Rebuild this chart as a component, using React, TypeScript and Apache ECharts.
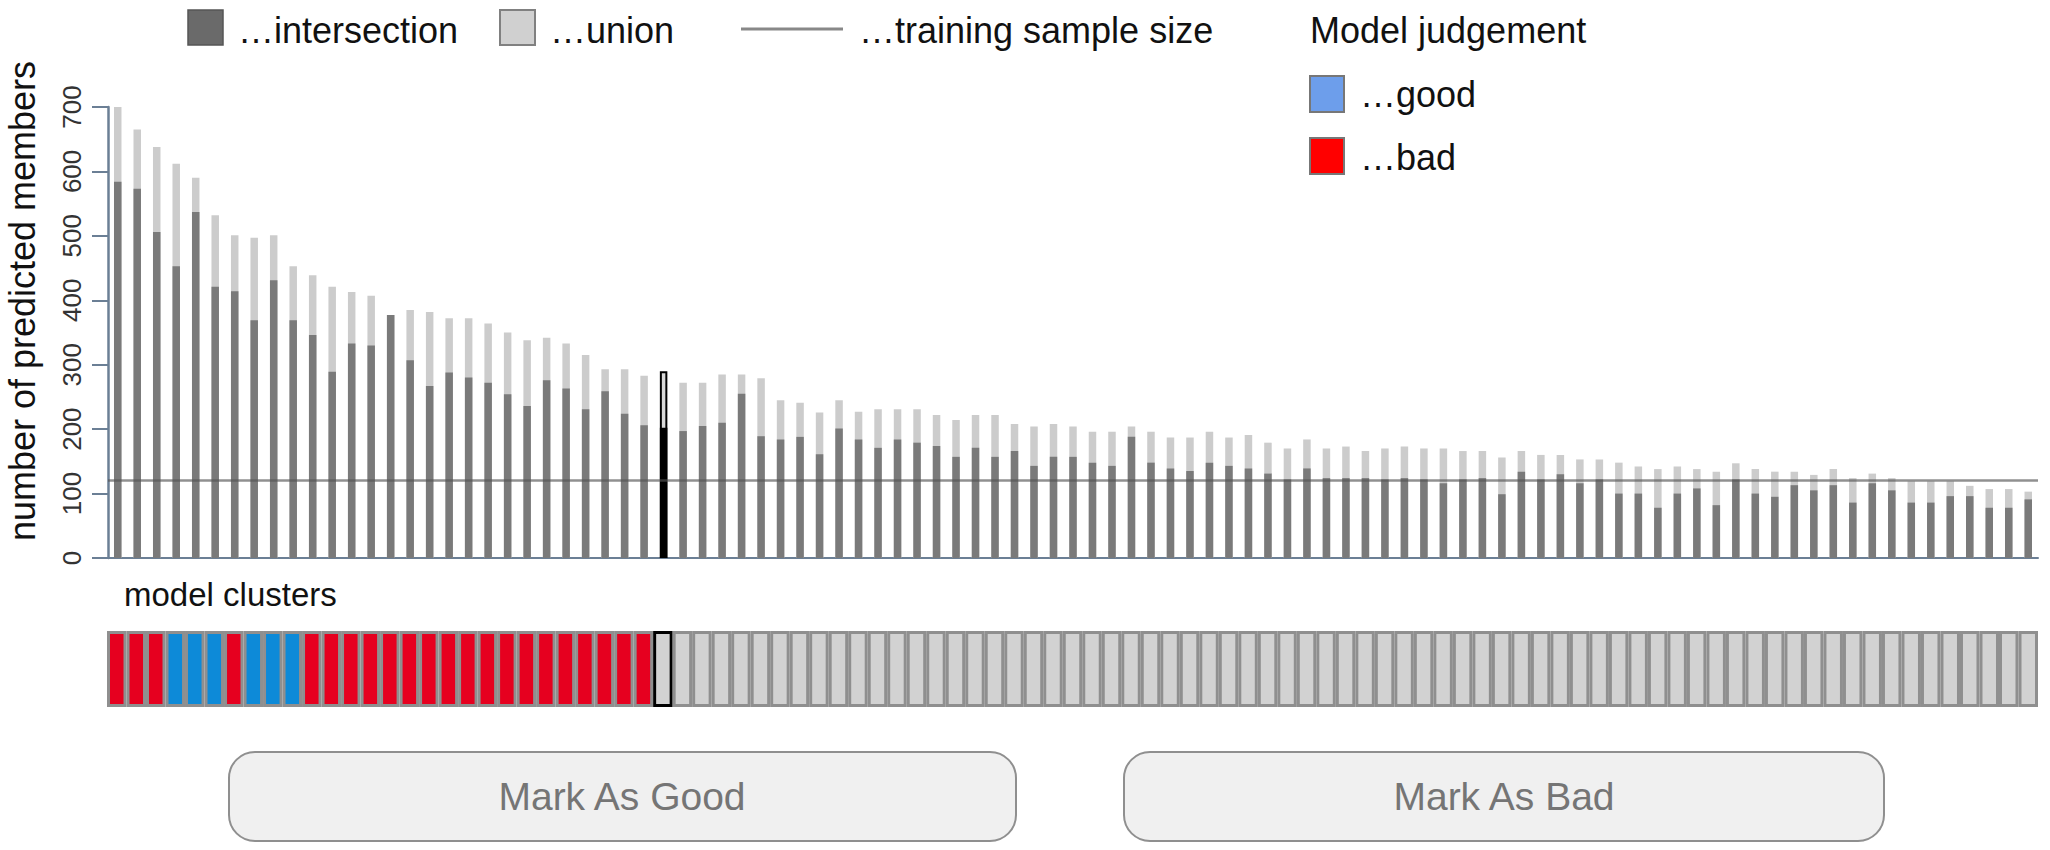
import React, { useEffect, useRef } from "react";
import * as echarts from "echarts";

const FONT = "'Liberation Sans', Arial, Helvetica, sans-serif";
const AXIS = "#6b7f95";

const unionSizes = [700, 665, 638, 612, 590, 532, 501, 497, 501, 453, 439, 421, 413, 407, 377, 385, 382, 372, 372, 364, 350, 338, 342, 333, 315, 293, 293, 283, 290, 272, 272, 285, 285, 279, 245, 241, 226, 245, 227, 231, 231, 231, 222, 214, 222, 222, 208, 204, 208, 204, 196, 196, 204, 196, 187, 187, 196, 187, 191, 179, 170, 184, 170, 173, 166, 170, 173, 170, 170, 166, 166, 156, 166, 160, 160, 153, 153, 148, 142, 138, 142, 138, 134, 147, 138, 134, 134, 129, 138, 124, 131, 124, 119, 119, 119, 112, 107, 107, 103];

const intersectionSizes = [584, 573, 506, 453, 537, 421, 414, 369, 431, 369, 346, 289, 333, 330, 377, 307, 267, 288, 280, 272, 254, 236, 276, 263, 231, 259, 224, 206, 202, 197, 205, 210, 255, 189, 184, 188, 161, 201, 184, 171, 184, 179, 174, 157, 171, 157, 166, 143, 157, 157, 148, 143, 188, 148, 139, 135, 148, 143, 139, 131, 122, 139, 124, 124, 124, 122, 124, 122, 116, 122, 124, 99, 134, 122, 130, 116, 122, 100, 100, 78, 100, 108, 82, 122, 100, 95, 113, 105, 113, 86, 116, 105, 86, 86, 96, 96, 78, 78, 91];

const judgements = [
  "bad", "bad", "bad", "good", "good", "good", "bad", "good", "good", "good",
  "bad", "bad", "bad", "bad", "bad", "bad", "bad", "bad", "bad", "bad",
  "bad", "bad", "bad", "bad", "bad", "bad", "bad", "bad",
];

const TRAINING_SAMPLE_SIZE = 121;
const SELECTED = 28;
const clusterIds = unionSizes.map((_, i) => `cluster ${i + 1}`);

const yTicks = { min: 0, max: 700, interval: 100 };

const judgementColor = (j: string | undefined) =>
  j === "good" ? "#0d8ad8" : j === "bad" ? "#e6001f" : "#d2d2d2";

export default function App() {
  const ref = useRef<HTMLDivElement>(null);
  useEffect(() => {
    if (!ref.current) return;
    const chart = echarts.init(ref.current, null, { renderer: "svg" });
    const txt = (
      text: string,
      x: number,
      y: number,
      fontSize: number,
      fill = "#111",
      extra: any = {}
    ) => ({
      type: "text",
      x,
      y,
      ...extra,
      style: {
        text,
        fontSize,
        fontFamily: FONT,
        fill,
        align: extra.align || "left",
        textAlign: extra.align || "left",
        verticalAlign: "middle",
        textVerticalAlign: "middle",
      },
    });
    const option: any = {
      animation: false,
      backgroundColor: "#ffffff",
      grid: [
        { left: 108, top: 107, width: 1930, height: 451 },
        { left: 107, top: 631, width: 1931, height: 76 },
      ],
      xAxis: [
        {
          type: "category",
          gridIndex: 0,
          data: clusterIds,
          axisLine: { lineStyle: { color: AXIS, width: 2 } },
          axisTick: {
            interval: (i: number) => i === 0,
            length: 12,
            lineStyle: { color: AXIS, width: 2 },
          },
          axisLabel: { show: false },
        },
        { type: "category", gridIndex: 1, data: clusterIds, show: false },
      ],
      yAxis: [
        {
          type: "value",
          gridIndex: 0,
          min: yTicks.min,
          max: yTicks.max,
          interval: yTicks.interval,
          axisLine: { show: true, lineStyle: { color: AXIS, width: 2.5 } },
          axisTick: { show: true, length: 16, lineStyle: { color: AXIS, width: 2 } },
          axisLabel: {
            rotate: 90,
            fontSize: 26,
            fontFamily: FONT,
            color: "#333",
            margin: 23,
          },
          splitLine: { show: false },
        },
        { type: "value", gridIndex: 1, min: 0, max: 1, show: false },
      ],
      series: [
        {
          type: "bar",
          name: "…union",
          xAxisIndex: 0,
          yAxisIndex: 0,
          barWidth: 7.5,
          barGap: "-100%",
          z: 1,
          itemStyle: { color: "#cccccc" },
          data: unionSizes.map((v, i) =>
            i === SELECTED
              ? { value: v, itemStyle: { color: "#d8d8d8", borderColor: "#000", borderWidth: 2 } }
              : v
          ),
        },
        {
          type: "bar",
          name: "…intersection",
          xAxisIndex: 0,
          yAxisIndex: 0,
          barWidth: 7.5,
          barGap: "-100%",
          z: 2,
          itemStyle: { color: "#7a7a7a" },
          data: intersectionSizes.map((v, i) =>
            i === SELECTED ? { value: v, itemStyle: { color: "#000" } } : v
          ),
          markLine: {
            silent: true,
            symbol: "none",
            label: { show: false },
            lineStyle: { color: "#555", opacity: 0.65, width: 2.5, type: "solid" },
            data: [{ yAxis: TRAINING_SAMPLE_SIZE }],
          },
        },
        {
          type: "bar",
          name: "model clusters",
          xAxisIndex: 1,
          yAxisIndex: 1,
          barCategoryGap: "0%",
          z: 1,
          data: clusterIds.map((_, i) =>
            i === SELECTED
              ? { value: 1, itemStyle: { color: "#d2d2d2", borderColor: "#000", borderWidth: 3 }, z: 3 }
              : {
                  value: 1,
                  itemStyle: {
                    color: judgementColor(judgements[i]),
                    borderColor: "#8f8f8f",
                    borderWidth: 3,
                  },
                }
          ),
        },
      ],
      graphic: [
        // legend row
        { type: "rect", shape: { x: 188, y: 10, width: 35, height: 35 }, style: { fill: "#6a6a6a", stroke: "#555", lineWidth: 1.5 } },
        txt("…intersection", 238, 30, 36),
        { type: "rect", shape: { x: 500, y: 10, width: 35, height: 35 }, style: { fill: "#d0d0d0", stroke: "#808080", lineWidth: 2 } },
        txt("…union", 550, 30, 36),
        { type: "line", shape: { x1: 741, y1: 29, x2: 843, y2: 29 }, style: { stroke: "#888", lineWidth: 3 } },
        txt("…training sample size", 859, 30, 36),
        txt("Model judgement", 1310, 30, 36),
        { type: "rect", shape: { x: 1310, y: 76, width: 34, height: 36 }, style: { fill: "#6d9eeb", stroke: "#777", lineWidth: 2 } },
        txt("…good", 1360, 94, 36),
        { type: "rect", shape: { x: 1310, y: 138, width: 34, height: 36 }, style: { fill: "#ff0000", stroke: "#777", lineWidth: 2 } },
        txt("…bad", 1360, 157, 36),
        // axis title
        txt("number of predicted members", 22, 301, 36, "#111", { rotation: Math.PI / 2, align: "center" }),
        txt("model clusters", 124, 594, 33),
        // buttons
        { type: "rect", shape: { x: 229, y: 752, width: 787, height: 89, r: 26 }, style: { fill: "#f0f0f0", stroke: "#8f8f8f", lineWidth: 2 } },
        txt("Mark As Good", 622, 796, 39, "#757575", { align: "center" }),
        { type: "rect", shape: { x: 1124, y: 752, width: 760, height: 89, r: 26 }, style: { fill: "#f0f0f0", stroke: "#8f8f8f", lineWidth: 2 } },
        txt("Mark As Bad", 1504, 796, 39, "#757575", { align: "center" }),
      ],
    };
    chart.setOption(option);
    return () => chart.dispose();
  }, []);
  return (
    <div
      ref={ref}
      style={{ position: "absolute", left: 0, top: 0, width: 2050, height: 850 }}
    />
  );
}
